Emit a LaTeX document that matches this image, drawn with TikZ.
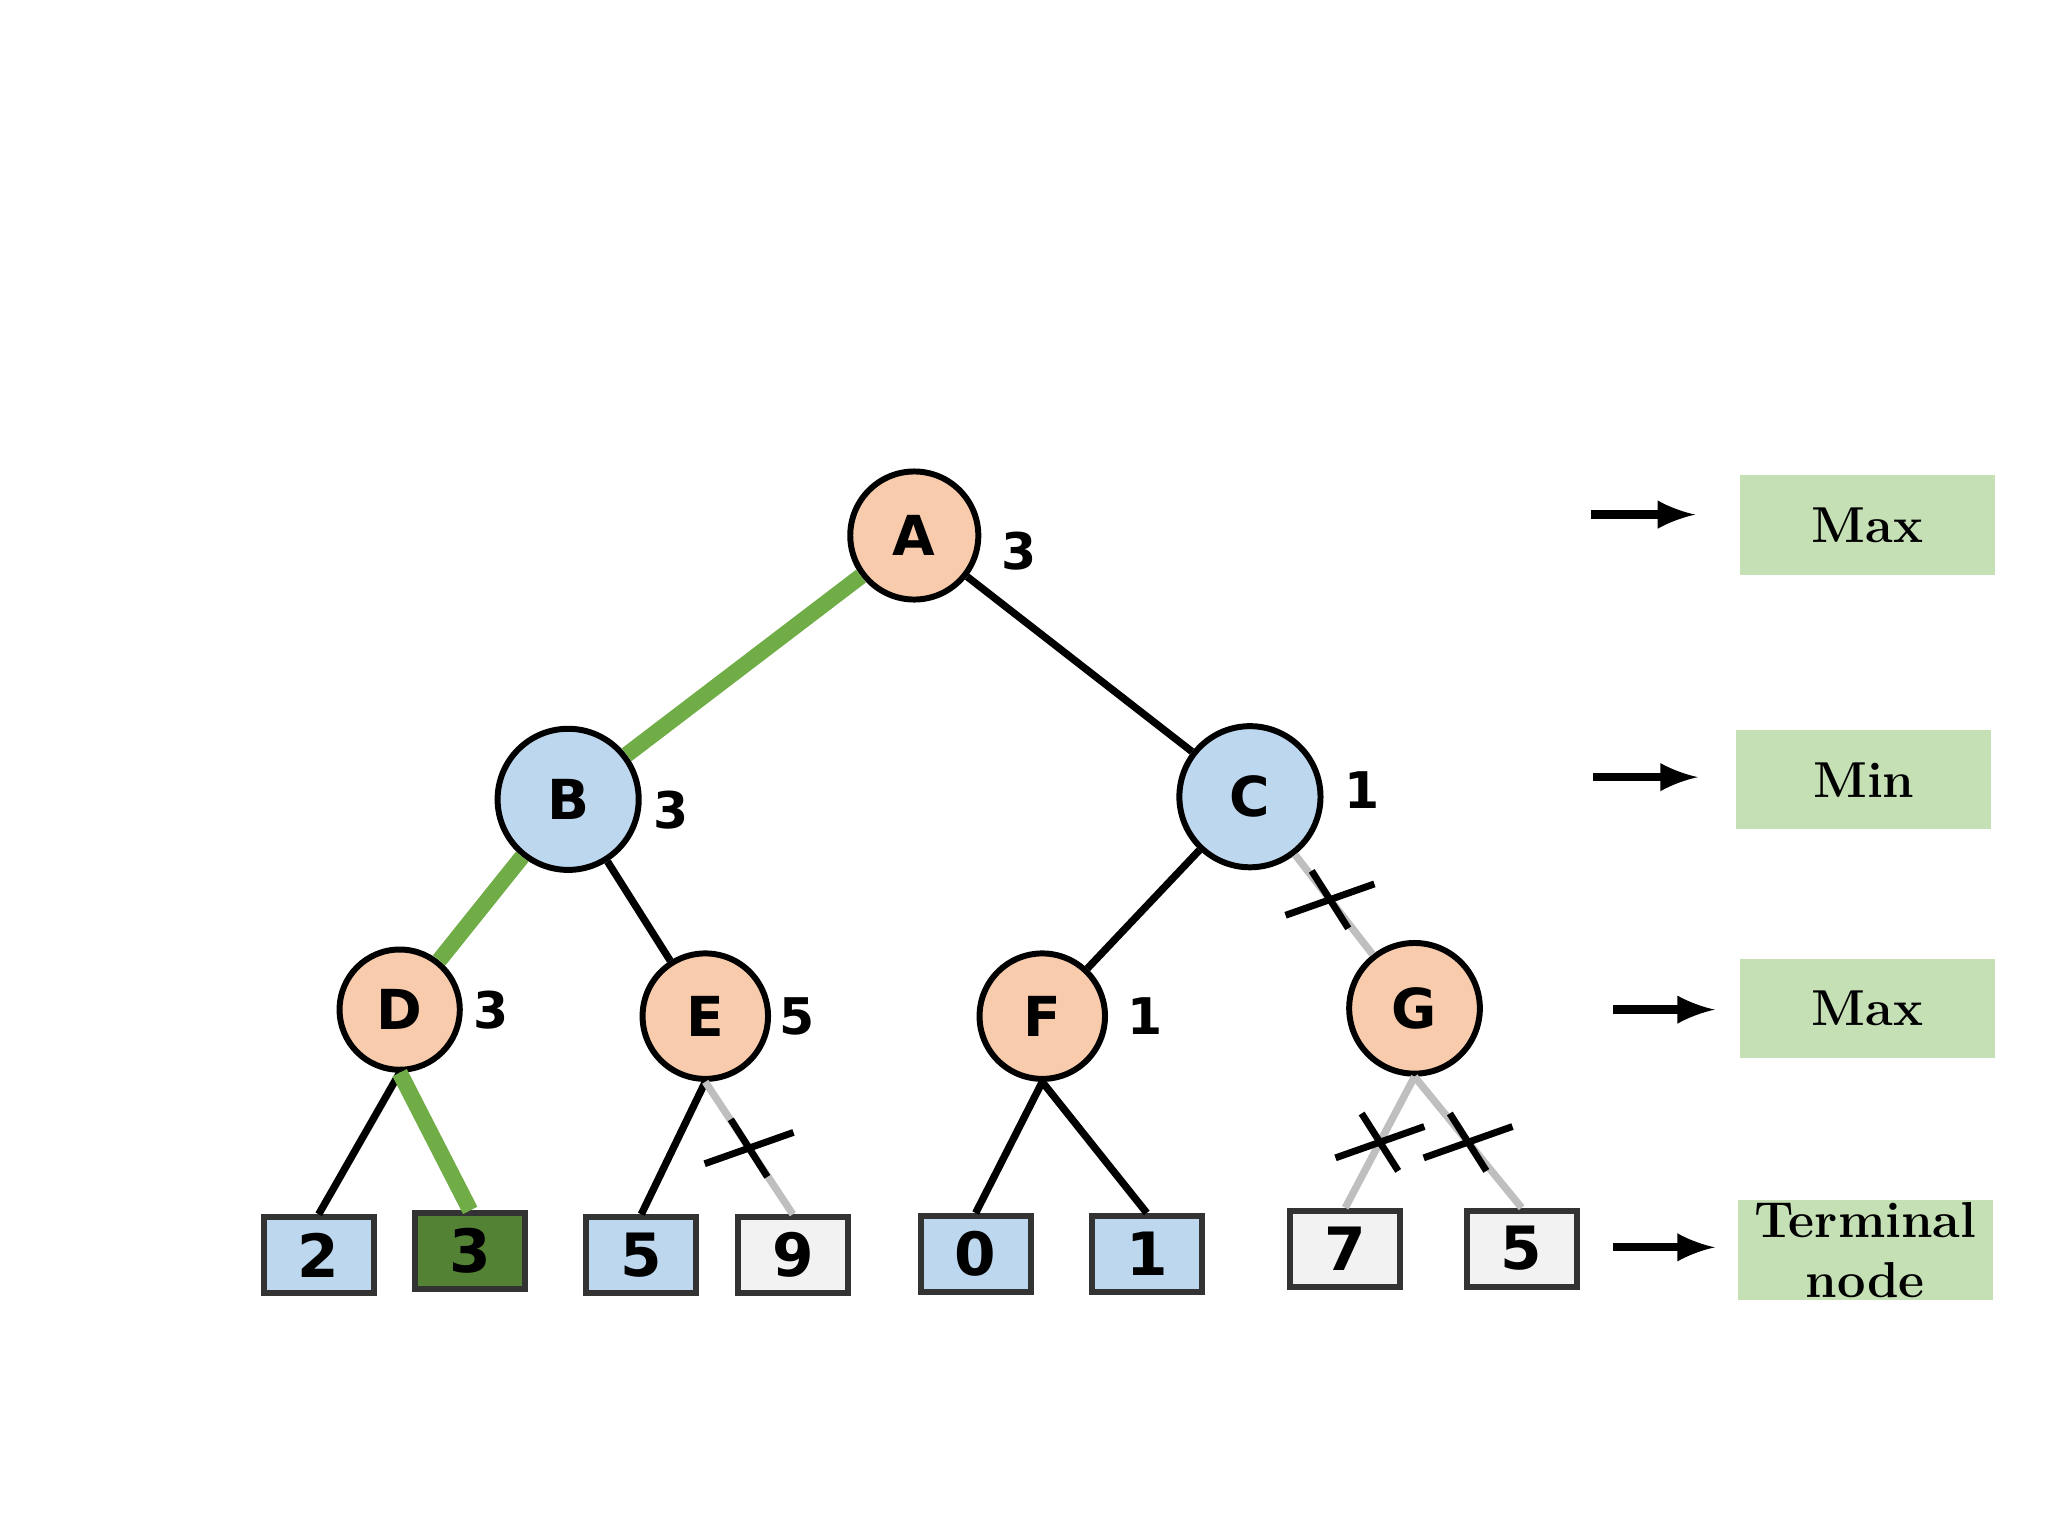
\documentclass[tikz,border=0pt]{standalone}
\usepackage{fontspec}
\setsansfont{DejaVu Sans}
\begin{document}
\begin{tikzpicture}[x=0.01cm,y=-0.01cm,
 mx/.style={circle,draw=black,line width=1.3pt,minimum size=0.98cm,inner sep=0,font=\sffamily\bfseries\fontsize{12}{14}\selectfont},
 mn/.style={mx},
 lf/.style={draw=black!80,line width=1.3pt,fill=#1,minimum width=0.84cm,minimum height=0.58cm,inner sep=0,font=\sffamily\bfseries\fontsize{13}{15}\selectfont},
 val/.style={font=\sffamily\bfseries\fontsize{11}{13}\selectfont},
 lab/.style={fill=lgr,minimum width=1.95cm,minimum height=0.76cm,inner sep=0,font=\rmfamily\bfseries\fontsize{11}{13}\selectfont,align=center},
 e/.style={line width=1.6pt},
 g/.style={line width=3.5pt,draw=lin},
 p/.style={line width=1.6pt,draw=black!25},
 ar/.style={-latex,line width=1.8pt}]
\useasboundingbox (0,0) rectangle (1568,1176);
\definecolor{orn}{HTML}{F8CBAD}\definecolor{blu}{HTML}{BDD7EE}\definecolor{wht}{HTML}{F2F2F2}\definecolor{dgr}{HTML}{548235}
\definecolor{lgr}{HTML}{C5E0B4}\definecolor{lin}{HTML}{70AD47}
\tikzset{mx/.append style={fill=orn},mn/.append style={fill=blu}}
\node[mx] (A) at (700,410) {A};
\node[mn,minimum size=1.08cm] (B) at (435,612) {B};
\node[mn,minimum size=1.08cm] (C) at (957,610) {C};
\node[mx,minimum size=0.92cm] (D) at (306,773) {D};
\node[mx,minimum size=0.96cm] (E) at (540,778) {E};
\node[mx,minimum size=0.96cm] (F) at (798,778) {F};
\node[mx,minimum size=1.0cm] (G) at (1083,772) {G};
\node[lf=blu] (l1) at (244,961) {2};
\node[lf=dgr] (l2) at (360,958) {3};
\node[lf=blu] (l3) at (491,961) {5};
\node[lf=wht] (l4) at (607,961) {9};
\node[lf=blu] (l5) at (747,960) {0};
\node[lf=blu] (l6) at (878,960) {1};
\node[lf=wht] (l7) at (1030,956) {7};
\node[lf=wht] (l8) at (1165,956) {5};
\node[val] (vA) at (780,422) {3};
\node[val] (vB) at (514,620) {3};
\node[val] (vC) at (1043,605) {1};
\node[val] (vD) at (376,773) {3};
\node[val] (vE) at (610,778) {5};
\node[val] (vF) at (877,778) {1};
\draw[g] (A) -- (B);
\draw[e] (A) -- (C);
\draw[g] (B) -- (D);
\draw[e] (B) -- (E);
\draw[e] (C) -- (F);
\draw[p] (C) -- coordinate[pos=0.45] (x1) (G);
\draw[e] (D.south) -- (l1.north);
\draw[g] (D.south) -- (l2.north);
\draw[e] (E.south) -- (l3.north);
\draw[p] (E.south) -- coordinate[pos=0.5] (x2) (l4.north);
\draw[e] (F.south) -- (l5.north);
\draw[e] (F.south) -- (l6.north);
\draw[p] (G.south) -- coordinate[pos=0.5] (x3) (l7.north);
\draw[p] (G.south) -- coordinate[pos=0.5] (x4) (l8.north);
\foreach \c in {x1,x2,x3,x4}{
 \draw[line width=1.5pt] ([shift={(-34,12)}]\c) -- ([shift={(34,-12)}]\c);
 \draw[line width=1.5pt] ([shift={(-14,-22)}]\c) -- ([shift={(14,22)}]\c);}
\node[lab] (m1) at (1430,402) {Max};
\node[lab] (m2) at (1427,597) {Min};
\node[lab] (m3) at (1430,772) {Max};
\node[lab] (m4) at (1428,957) {Terminal\\node};
\coordinate (s1) at (1218,394);\coordinate (s2) at (1220,595);\coordinate (s3) at (1235,773);\coordinate (s4) at (1235,955);
\draw[ar] (s1) -- (1298,394);
\draw[ar] (s2) -- (1300,595);
\draw[ar] (s3) -- (1313,773);
\draw[ar] (s4) -- (1313,955);
\end{tikzpicture}
\end{document}
